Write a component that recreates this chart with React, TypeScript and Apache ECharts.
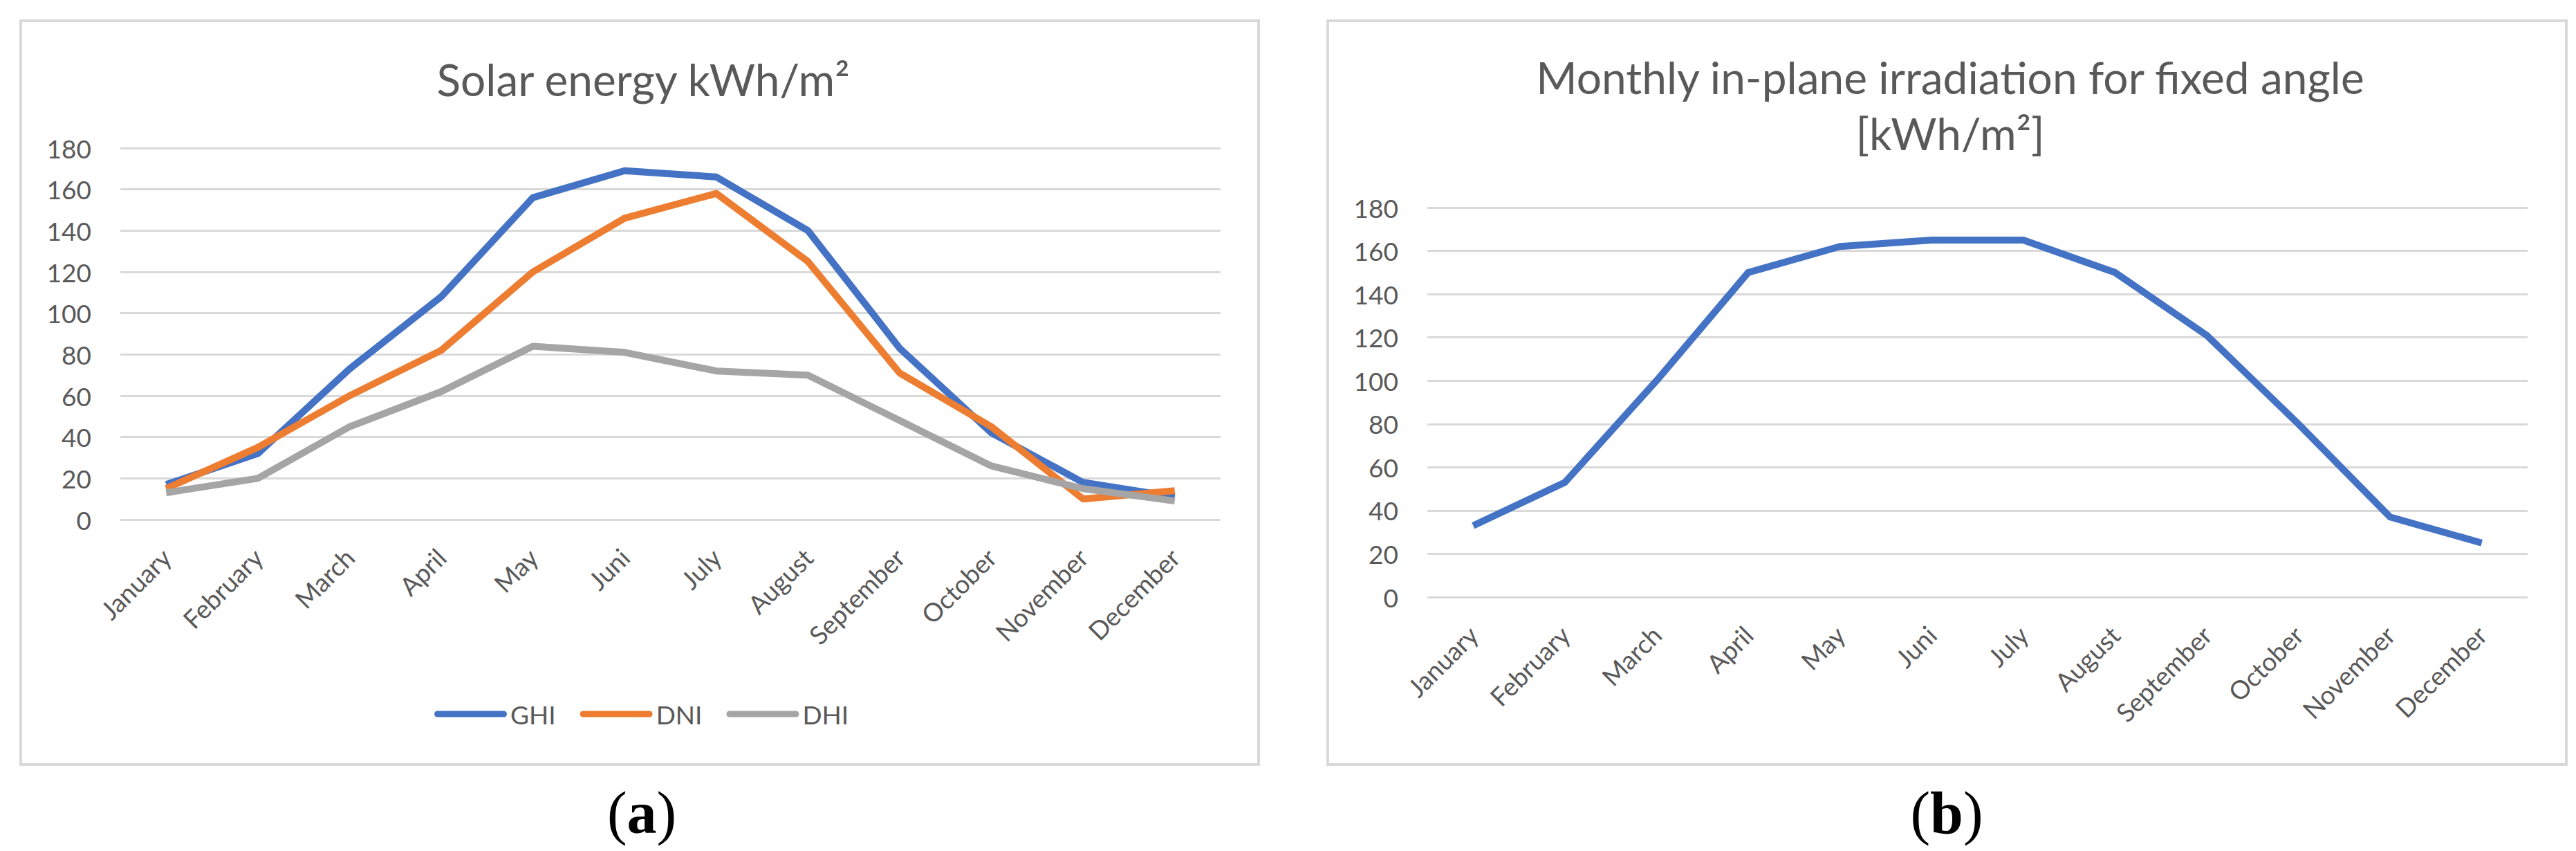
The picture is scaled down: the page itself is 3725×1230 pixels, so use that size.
import React, { useEffect, useRef } from "react";
import * as echarts from "echarts";

const months = ["January", "February", "March", "April", "May", "Juni", "July", "August", "September", "October", "November", "December"];
const ghi = [17, 32, 73, 108, 156, 169, 166, 140, 83, 42, 18, 11];
const dni = [15, 35, 60, 82, 120, 146, 158, 125, 71, 45, 10, 14];
const dhi = [13, 20, 45, 62, 84, 81, 72, 70, 48, 26, 15, 9];
const fixedAngle = [33, 53, 100, 150, 162, 165, 165, 150, 121, 80, 37, 25];

const titleA = "Solar energy kWh/m²";
const titleB = "Monthly in-plane irradiation for fixed angle\n[kWh/m²]";

const TXT = "#595959";
const GRID = "#d9d9d9";
const FONT = "Lato";
const BLUE = "#4472C4";
const ORANGE = "#ED7D31";
const GRAY = "#A5A5A5";

const capsule = "path://M4.5,0 L100.5,0 A4.5,4.5 0 0 1 100.5,9 L4.5,9 A4.5,4.5 0 0 1 4.5,0 Z";

function xAxis(gridIndex: number) {
  return {
    type: "category",
    gridIndex,
    data: months,
    boundaryGap: true,
    axisLine: { show: false },
    axisTick: { show: false },
    axisLabel: { rotate: 45, margin: 48, color: TXT, fontFamily: FONT, fontSize: 37, interval: 0 },
  };
}
function yAxis(gridIndex: number) {
  return {
    type: "value",
    gridIndex,
    min: 0,
    max: 180,
    interval: 20,
    axisLine: { show: false },
    axisTick: { show: false },
    axisLabel: { margin: 42, color: TXT, fontFamily: FONT, fontSize: 37 },
    splitLine: { lineStyle: { color: GRID, width: 3 } },
  };
}
function line(name: string, data: number[], color: string, idx: number) {
  return {
    type: "line",
    name,
    data,
    xAxisIndex: idx,
    yAxisIndex: idx,
    symbol: "none",
    color,
    lineStyle: { color, width: 10, cap: "butt", join: "round" },
  };
}

function caption(letter: string, x: number) {
  return {
    type: "text",
    x,
    y: 1175,
    style: {
      text: "{p|(}{b|" + letter + "}{p|)}",
      align: "center",
      verticalAlign: "middle",
      rich: {
        p: { fontFamily: "Liberation Serif", fontSize: 86, fill: "#000", fontWeight: "normal" },
        b: { fontFamily: "Liberation Serif", fontSize: 86, fill: "#000", fontWeight: "bold" },
      },
    },
  };
}

export default function App() {
  const ref = useRef<HTMLDivElement>(null);
  useEffect(() => {
    if (!ref.current) return;
    const chart = echarts.init(ref.current, undefined, { renderer: "svg" });
    chart.setOption({
      animation: false,
      backgroundColor: "#ffffff",
      title: [
        {
          text: titleA,
          left: 925,
          top: 73,
          textAlign: "center",
          textStyle: { color: TXT, fontFamily: FONT, fontSize: 64, fontWeight: "normal", lineHeight: 72 },
        },
        {
          text: titleB,
          left: 2815,
          top: 66,
          textAlign: "center",
          textStyle: { color: TXT, fontFamily: FONT, fontSize: 64, fontWeight: "normal", lineHeight: 81 },
        },
      ],
      legend: {
        left: 628,
        top: 1012,
        padding: 0,
        itemWidth: 105,
        itemHeight: 9,
        itemGap: 35,
        icon: capsule,
        data: ["GHI", "DNI", "DHI"],
        textStyle: { color: TXT, fontFamily: FONT, fontSize: 37, lineHeight: 40 },
      },
      grid: [
        { left: 174, top: 214, width: 1591, height: 537 },
        { left: 2064, top: 300, width: 1591, height: 563 },
      ],
      xAxis: [xAxis(0), xAxis(1)],
      yAxis: [yAxis(0), yAxis(1)],
      series: [
        line("GHI", ghi, BLUE, 0),
        line("DNI", dni, ORANGE, 0),
        line("DHI", dhi, GRAY, 0),
        line("In-plane", fixedAngle, BLUE, 1),
      ],
      graphic: [
        { type: "rect", shape: { x: 30, y: 30, width: 1790, height: 1075 }, style: { fill: "none", stroke: GRID, lineWidth: 4 }, silent: true },
        { type: "rect", shape: { x: 1920, y: 30, width: 1791, height: 1075 }, style: { fill: "none", stroke: GRID, lineWidth: 4 }, silent: true },
        caption("a", 928),
        caption("b", 2815),
      ],
    });
    return () => chart.dispose();
  }, []);
  return <div ref={ref} style={{ position: "absolute", left: 0, top: 0, width: 3725, height: 1230 }} />;
}
